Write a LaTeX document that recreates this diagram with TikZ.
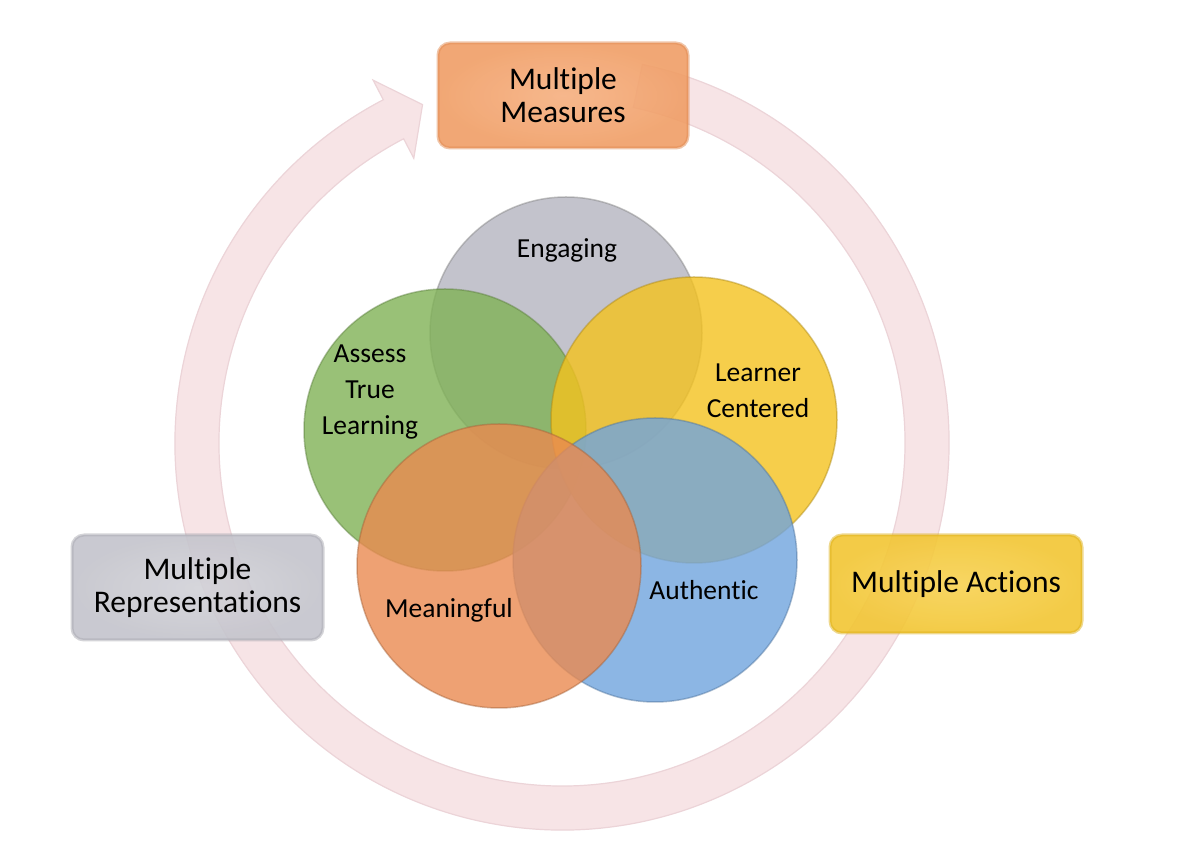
\documentclass[tikz,border=0pt]{standalone}
\usepackage{fontspec}
\setmainfont{Carlito}[Ligatures=NoCommon]
\usetikzlibrary{calc}
\definecolor{ringfill}{RGB}{247,228,230}
\definecolor{ringedge}{RGB}{236,212,216}
\definecolor{mmfill}{RGB}{246,176,128}
\definecolor{mmouter}{RGB}{240,158,102}
\definecolor{mmedge}{RGB}{226,140,84}
\definecolor{mrfill}{RGB}{210,210,216}
\definecolor{mrouter}{RGB}{196,196,204}
\definecolor{mredge}{RGB}{170,170,178}
\definecolor{mafill}{RGB}{248,210,82}
\definecolor{maouter}{RGB}{242,198,52}
\definecolor{maedge}{RGB}{222,178,28}
\definecolor{cgray}{RGB}{181,181,192}
\definecolor{cgreen}{RGB}{128,178,86}
\definecolor{cyellow}{RGB}{244,194,30}
\definecolor{cblue}{RGB}{112,164,222}
\definecolor{corange}{RGB}{234,138,80}
\begin{document}
\begin{tikzpicture}[x=1pt,y=1pt,
  boxstyle/.style={rectangle, rounded corners=12pt, inner sep=0pt, align=center,
    line width=3pt, fill opacity=0.9, draw opacity=0.5, text opacity=1,
    font=\fontsize{31.5}{33}\selectfont},
  venn/.style={circle, inner sep=0pt, fill opacity=0.8, draw opacity=0.45, line width=1.5pt},
  lbl/.style={align=center, inner sep=0pt, font=\fontsize{27.5}{36}\selectfont}]
\useasboundingbox (0,0) rectangle (1184,854);
\fill[white] (0,0) rectangle (1184,854);
% ring arrow
\begin{scope}[shift={(562,411)}]
\draw[fill=ringfill, draw=ringedge, line width=1.2pt, line join=miter]
  (78:387) arc[start angle=78, end angle=-242.5, radius=387]
  -- (-242.5:409) -- (-247.6:366) -- (-242.5:321) -- (-242.5:343)
  arc[start angle=-242.5, end angle=78, radius=343] -- cycle;
\end{scope}
% boxes
\node[boxstyle, shade, inner color=mmfill, outer color=mmouter, draw=mmedge, minimum width=250pt, minimum height=105pt] (mm) at (563,758.5) {Multiple\\Measures};
\node[boxstyle, shade, inner color=mrfill, outer color=mrouter, draw=mredge, minimum width=251pt, minimum height=105pt] (mr) at (197.5,266.5) {Multiple\\Representations};
\node[boxstyle, shade, inner color=mafill, outer color=maouter, draw=maedge, minimum width=252pt, minimum height=98pt] (ma) at (956,270) {Multiple Actions};
% circles
\node[venn, fill=cgray, draw=gray, minimum size=272pt] (eng) at (566,521) {};
\node[venn, fill=cgreen, draw=cgreen!70!black, minimum size=282pt] (ass) at (445,424) {};
\node[venn, fill=cyellow, draw=cyellow!70!black, minimum size=286pt] (lea) at (694,434) {};
\node[venn, fill=cblue, draw=cblue!70!black, minimum size=284pt] (aut) at (655,294) {};
\node[venn, fill=corange, draw=corange!70!black, minimum size=284pt] (mea) at (499,288) {};
% labels
\node[lbl] (teng) at (567,604) {Engaging};
\node[lbl] (tass) at (370,462) {Assess\\True\\Learning};
\node[lbl] (tlea) at (758,463) {Learner\\Centered};
\node[lbl] (taut) at (704,264) {Authentic};
\node[lbl] (tmea) at (449,244) {Meaningful};
\end{tikzpicture}
\end{document}
